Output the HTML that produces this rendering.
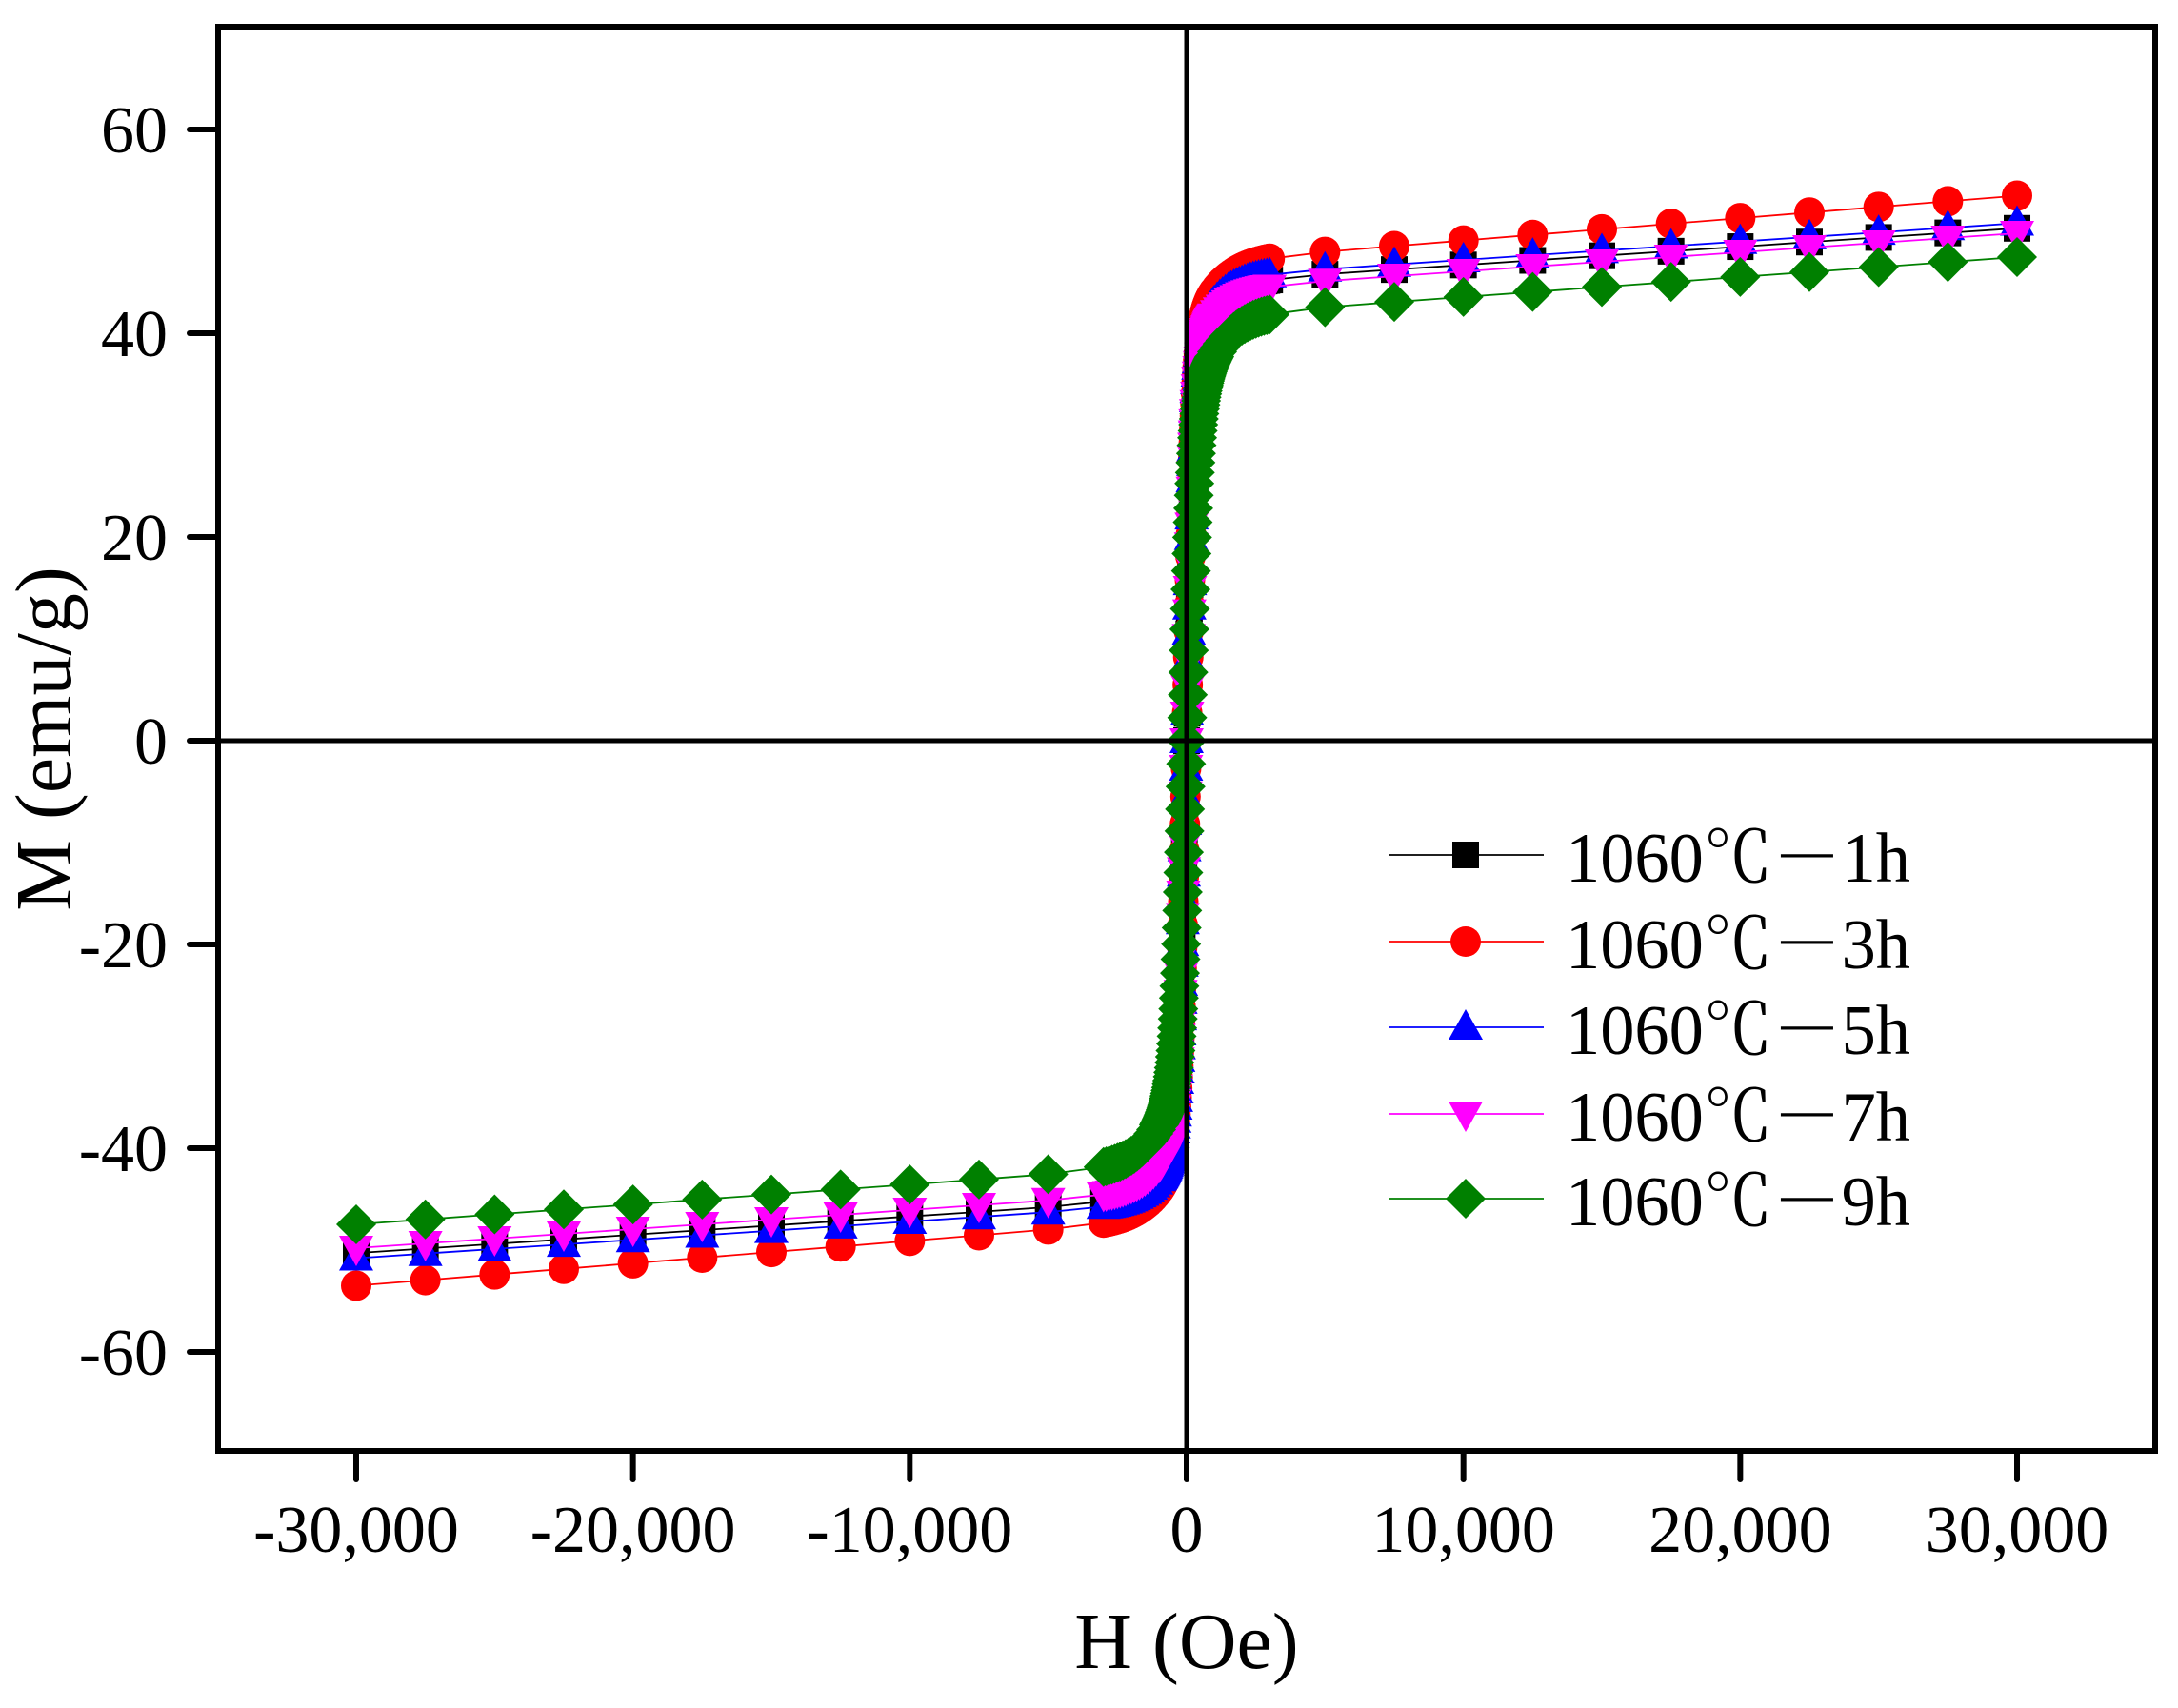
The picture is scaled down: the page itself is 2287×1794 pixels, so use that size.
<!DOCTYPE html>
<html><head><meta charset="utf-8"><style>
html,body{margin:0;padding:0;background:#fff;}
svg{display:block;}
text{font-family:"Liberation Serif","Noto Serif CJK SC",serif;fill:#000;}
</style></head><body>
<svg id="s" width="2287" height="1794" viewBox="0 0 2287 1794" xmlns="http://www.w3.org/2000/svg">
<rect width="2287" height="1794" fill="#fff"/>
<g id="data"></g>
<line x1="229" y1="778" x2="2263" y2="778" stroke="#000" stroke-width="5"/>
<line x1="1246" y1="28" x2="1246" y2="1524" stroke="#000" stroke-width="5"/>
<rect x="229" y="28" width="2034" height="1496" fill="none" stroke="#000" stroke-width="6"/>
<g id="ticks" stroke="#000" stroke-width="6" stroke-linecap="round"></g>
<g id="labels" font-size="70"></g>
<text x="1246" y="1752" font-size="84" text-anchor="middle">H (Oe)</text>
<text transform="translate(74,776) rotate(-90)" font-size="84" text-anchor="middle">M (emu/g)</text>
<g id="legend"></g>
</svg>
<script>
var NS="http://www.w3.org/2000/svg";
function X(h){return 1246+h*0.029067;}
function Y(m){return 778-m*10.7;}
function el(p,t,a,txt){var e=document.createElementNS(NS,t);for(var k in a)e.setAttribute(k,a[k]);if(txt!==undefined)e.textContent=txt;p.appendChild(e);return e;}
var tk=document.getElementById('ticks'),lb=document.getElementById('labels');
[-30000,-20000,-10000,0,10000,20000,30000].forEach(function(v){
  el(tk,'line',{x1:X(v),y1:1524,x2:X(v),y2:1554});
  var s=v===0?'0':(v<0?'-':'')+Math.abs(v/1000)+',000';
  el(lb,'text',{x:X(v),y:1630,'text-anchor':'middle'},s);
});
[-60,-40,-20,0,20,40,60].forEach(function(v){
  el(tk,'line',{x1:199,y1:Y(v),x2:229,y2:Y(v)});
  el(lb,'text',{x:176,y:Y(v)+24,'text-anchor':'end'},String(v));
});
var series=[
 {c:'#000',m:'sq',a1:39,a2:5.9,chi:0.00018},
 {c:'#f00',m:'ci',a1:40,a2:6.9,chi:0.00022},
 {c:'#00f',m:'tu',a1:39.5,a2:5.9,chi:0.00018},
 {c:'#f0f',m:'td',a1:38,a2:6.2,chi:0.000187},
 {c:'#008000',m:'di',a1:32,a2:9.6,chi:0.000196}
];
var Hs=[];
for(var h=30000;h>=5000;h-=2500)Hs.push(h);
for(var h=3000;h>1000;h-=100)Hs.push(h);
for(var h=1000;h>=-1000;h-=20)Hs.push(h);
for(var h=-1100;h>=-3000;h-=100)Hs.push(h);
for(var h=-5000;h>=-30000;h-=2500)Hs.push(h);
function marker(g,type,x,y,c){
  if(type==='sq')el(g,'rect',{x:x-14,y:y-14,width:28,height:28,fill:c});
  else if(type==='ci')el(g,'circle',{cx:x,cy:y,r:16,fill:c});
  else if(type==='tu')el(g,'polygon',{points:(x)+','+(y-19)+' '+(x+18)+','+(y+13)+' '+(x-18)+','+(y+13),fill:c});
  else if(type==='td')el(g,'polygon',{points:(x)+','+(y+19)+' '+(x+18)+','+(y-13)+' '+(x-18)+','+(y-13),fill:c});
  else el(g,'polygon',{points:x+','+(y-21)+' '+(x+21)+','+y+' '+x+','+(y+21)+' '+(x-21)+','+y,fill:c});
}
var dg=document.getElementById('data');
series.forEach(function(s){
  var pts=Hs.map(function(h){var m=s.a1*Math.tanh(h/300)+s.a2*Math.tanh(h/1500)+s.chi*h;return [X(h),Y(m)];});
  el(dg,'polyline',{points:pts.map(function(p){return p[0].toFixed(1)+','+p[1].toFixed(1)}).join(' '),fill:'none',stroke:s.c,'stroke-width':1.8});
  var g=el(dg,'g',{});
  pts.forEach(function(p){marker(g,s.m,p[0],p[1],s.c);});
});
var lg=document.getElementById('legend');
var ly=[898,989,1079,1170,1259];
series.forEach(function(s,i){
  el(lg,'line',{x1:1458,y1:ly[i],x2:1621,y2:ly[i],stroke:s.c,'stroke-width':1.8});
  marker(lg,s.m,1539,ly[i],s.c);
  el(lg,'text',{x:1644,y:ly[i]+28,'font-size':74,textLength:362,lengthAdjust:'spacingAndGlyphs'},'1060\u2103\uFF0D'+(2*i+1)+'h');
});
</script>
</body></html>
